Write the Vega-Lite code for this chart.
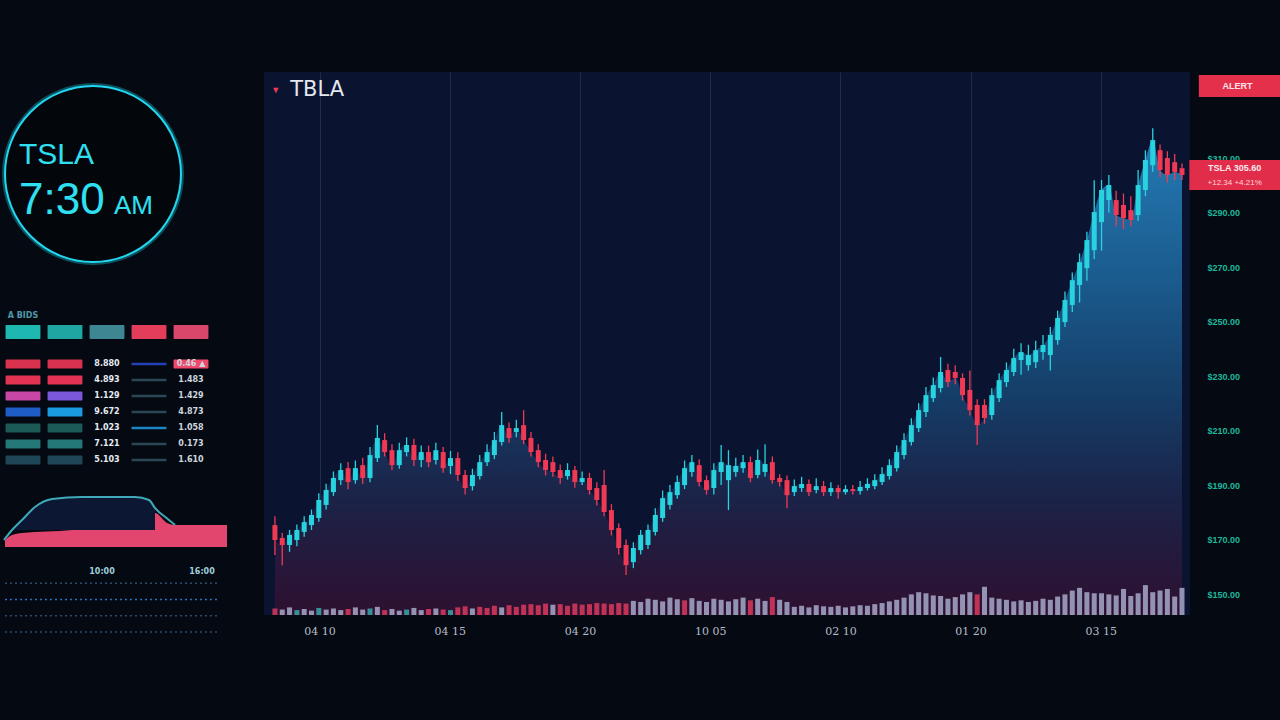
{
  "$schema": "https://vega.github.io/schema/vega-lite/v6.json",
  "padding": {"left": 0, "top": 72, "right": 0, "bottom": 80},
  "background": "#050911",
  "bounds": "full",
  "spacing": 37,
  "datasets": {
    "candles": [
      {"i":0,"o":175.3,"c":169.8,"h":178.5,"l":164.3,"v":12,"dir":"down","flow":"sell"},
      {"i":1,"o":170.6,"c":168.0,"h":172.5,"l":160.6,"v":10,"dir":"down","flow":"buy"},
      {"i":2,"o":168.0,"c":171.7,"h":173.5,"l":165.5,"v":14,"dir":"up","flow":"buy"},
      {"i":3,"o":169.8,"c":173.5,"h":175.5,"l":167.5,"v":9,"dir":"up","flow":"teal"},
      {"i":4,"o":172.8,"c":176.4,"h":178.5,"l":171.0,"v":11,"dir":"up","flow":"buy"},
      {"i":5,"o":175.3,"c":179.0,"h":181.0,"l":173.5,"v":8,"dir":"up","flow":"buy"},
      {"i":6,"o":177.9,"c":184.5,"h":187.0,"l":176.5,"v":13,"dir":"up","flow":"teal"},
      {"i":7,"o":182.7,"c":188.2,"h":190.5,"l":181.0,"v":10,"dir":"up","flow":"buy"},
      {"i":8,"o":187.4,"c":192.6,"h":195.0,"l":186.0,"v":12,"dir":"up","flow":"buy"},
      {"i":9,"o":191.8,"c":195.5,"h":198.0,"l":190.0,"v":9,"dir":"up","flow":"buy"},
      {"i":10,"o":196.2,"c":191.1,"h":198.5,"l":188.5,"v":11,"dir":"down","flow":"sell"},
      {"i":11,"o":191.8,"c":196.2,"h":199.0,"l":190.5,"v":14,"dir":"up","flow":"buy"},
      {"i":12,"o":197.3,"c":192.6,"h":200.0,"l":190.5,"v":10,"dir":"down","flow":"buy"},
      {"i":13,"o":192.6,"c":201.0,"h":204.0,"l":191.0,"v":12,"dir":"up","flow":"teal"},
      {"i":14,"o":199.9,"c":207.3,"h":212.0,"l":198.5,"v":15,"dir":"up","flow":"buy"},
      {"i":15,"o":206.5,"c":202.1,"h":209.0,"l":200.5,"v":9,"dir":"down","flow":"sell"},
      {"i":16,"o":202.8,"c":197.3,"h":205.0,"l":195.5,"v":11,"dir":"down","flow":"buy"},
      {"i":17,"o":197.3,"c":202.8,"h":205.5,"l":196.0,"v":8,"dir":"up","flow":"buy"},
      {"i":18,"o":202.1,"c":204.7,"h":207.5,"l":200.5,"v":10,"dir":"up","flow":"teal"},
      {"i":19,"o":204.7,"c":199.2,"h":207.0,"l":197.0,"v":13,"dir":"down","flow":"buy"},
      {"i":20,"o":199.2,"c":202.1,"h":204.5,"l":196.5,"v":9,"dir":"up","flow":"buy"},
      {"i":21,"o":202.1,"c":198.4,"h":204.5,"l":196.5,"v":11,"dir":"down","flow":"sell"},
      {"i":22,"o":199.2,"c":202.8,"h":205.5,"l":197.5,"v":12,"dir":"up","flow":"buy"},
      {"i":23,"o":202.1,"c":196.2,"h":204.0,"l":194.5,"v":10,"dir":"down","flow":"sell"},
      {"i":24,"o":197.0,"c":199.9,"h":202.5,"l":194.0,"v":9,"dir":"up","flow":"teal"},
      {"i":25,"o":199.9,"c":193.7,"h":202.0,"l":191.5,"v":14,"dir":"down","flow":"sell"},
      {"i":26,"o":193.7,"c":188.9,"h":195.5,"l":186.5,"v":16,"dir":"down","flow":"sell"},
      {"i":27,"o":189.6,"c":193.7,"h":196.0,"l":188.0,"v":12,"dir":"up","flow":"buy"},
      {"i":28,"o":193.3,"c":198.4,"h":201.0,"l":192.0,"v":15,"dir":"up","flow":"sell"},
      {"i":29,"o":198.4,"c":202.1,"h":205.0,"l":197.0,"v":13,"dir":"up","flow":"sell"},
      {"i":30,"o":201.0,"c":206.5,"h":209.5,"l":199.5,"v":17,"dir":"up","flow":"sell"},
      {"i":31,"o":205.8,"c":212.0,"h":216.8,"l":204.5,"v":14,"dir":"up","flow":"buy"},
      {"i":32,"o":210.9,"c":207.3,"h":213.0,"l":205.5,"v":18,"dir":"down","flow":"sell"},
      {"i":33,"o":209.5,"c":210.9,"h":214.0,"l":207.5,"v":15,"dir":"up","flow":"sell"},
      {"i":34,"o":212.0,"c":206.5,"h":217.5,"l":205.0,"v":19,"dir":"down","flow":"sell"},
      {"i":35,"o":207.3,"c":202.1,"h":209.5,"l":200.5,"v":20,"dir":"down","flow":"sell"},
      {"i":36,"o":202.8,"c":198.4,"h":205.0,"l":196.5,"v":18,"dir":"down","flow":"sell"},
      {"i":37,"o":199.2,"c":195.5,"h":201.5,"l":193.5,"v":21,"dir":"down","flow":"sell"},
      {"i":38,"o":198.4,"c":194.8,"h":200.5,"l":193.0,"v":19,"dir":"down","flow":"buy"},
      {"i":39,"o":195.5,"c":192.6,"h":197.5,"l":190.5,"v":20,"dir":"down","flow":"sell"},
      {"i":40,"o":193.3,"c":195.5,"h":198.0,"l":192.0,"v":17,"dir":"up","flow":"sell"},
      {"i":41,"o":195.5,"c":191.1,"h":197.0,"l":189.0,"v":21,"dir":"down","flow":"sell"},
      {"i":42,"o":191.1,"c":192.6,"h":195.0,"l":190.0,"v":19,"dir":"up","flow":"sell"},
      {"i":43,"o":192.6,"c":188.2,"h":194.5,"l":186.5,"v":20,"dir":"down","flow":"sell"},
      {"i":44,"o":188.9,"c":184.5,"h":191.0,"l":182.5,"v":22,"dir":"down","flow":"sell"},
      {"i":45,"o":190.0,"c":180.1,"h":195.5,"l":178.5,"v":21,"dir":"down","flow":"sell"},
      {"i":46,"o":180.8,"c":173.5,"h":183.0,"l":171.5,"v":20,"dir":"down","flow":"sell"},
      {"i":47,"o":174.2,"c":166.9,"h":176.0,"l":164.5,"v":22,"dir":"down","flow":"sell"},
      {"i":48,"o":168.0,"c":160.6,"h":170.0,"l":157.0,"v":21,"dir":"down","flow":"sell"},
      {"i":49,"o":161.7,"c":166.9,"h":169.0,"l":159.5,"v":26,"dir":"up","flow":"buy"},
      {"i":50,"o":166.1,"c":171.7,"h":173.5,"l":164.5,"v":24,"dir":"up","flow":"buy"},
      {"i":51,"o":168.0,"c":173.5,"h":175.5,"l":166.5,"v":30,"dir":"up","flow":"buy"},
      {"i":52,"o":172.8,"c":179.0,"h":181.5,"l":171.5,"v":28,"dir":"up","flow":"buy"},
      {"i":53,"o":177.9,"c":185.2,"h":188.0,"l":176.5,"v":25,"dir":"up","flow":"buy"},
      {"i":54,"o":182.7,"c":187.4,"h":190.0,"l":181.0,"v":32,"dir":"up","flow":"buy"},
      {"i":55,"o":186.3,"c":191.1,"h":193.5,"l":185.0,"v":29,"dir":"up","flow":"buy"},
      {"i":56,"o":190.0,"c":196.2,"h":199.0,"l":188.5,"v":27,"dir":"up","flow":"sell"},
      {"i":57,"o":194.8,"c":198.4,"h":201.0,"l":193.0,"v":31,"dir":"up","flow":"buy"},
      {"i":58,"o":197.3,"c":191.1,"h":199.5,"l":189.5,"v":26,"dir":"down","flow":"buy"},
      {"i":59,"o":191.8,"c":188.2,"h":193.5,"l":186.5,"v":24,"dir":"down","flow":"buy"},
      {"i":60,"o":188.9,"c":195.5,"h":198.0,"l":186.5,"v":30,"dir":"up","flow":"buy"},
      {"i":61,"o":194.8,"c":198.4,"h":204.7,"l":190.0,"v":28,"dir":"up","flow":"buy"},
      {"i":62,"o":191.8,"c":197.3,"h":202.8,"l":180.8,"v":25,"dir":"up","flow":"buy"},
      {"i":63,"o":194.8,"c":197.0,"h":200.0,"l":193.0,"v":29,"dir":"up","flow":"buy"},
      {"i":64,"o":196.2,"c":198.4,"h":201.0,"l":194.5,"v":32,"dir":"up","flow":"buy"},
      {"i":65,"o":198.4,"c":192.6,"h":200.5,"l":191.0,"v":27,"dir":"down","flow":"sell"},
      {"i":66,"o":193.7,"c":199.2,"h":203.0,"l":192.5,"v":30,"dir":"up","flow":"buy"},
      {"i":67,"o":194.8,"c":197.7,"h":205.0,"l":193.0,"v":26,"dir":"up","flow":"buy"},
      {"i":68,"o":198.4,"c":191.8,"h":200.5,"l":190.5,"v":33,"dir":"down","flow":"sell"},
      {"i":69,"o":192.6,"c":191.1,"h":194.0,"l":189.5,"v":28,"dir":"down","flow":"buy"},
      {"i":70,"o":191.8,"c":186.3,"h":193.5,"l":181.5,"v":24,"dir":"down","flow":"buy"},
      {"i":71,"o":187.4,"c":189.6,"h":192.0,"l":186.0,"v":15,"dir":"up","flow":"buy"},
      {"i":72,"o":188.9,"c":190.4,"h":193.0,"l":187.5,"v":17,"dir":"up","flow":"buy"},
      {"i":73,"o":190.4,"c":187.4,"h":192.0,"l":186.0,"v":14,"dir":"down","flow":"buy"},
      {"i":74,"o":188.2,"c":189.6,"h":192.5,"l":187.0,"v":18,"dir":"up","flow":"buy"},
      {"i":75,"o":189.6,"c":187.4,"h":191.5,"l":186.0,"v":16,"dir":"down","flow":"buy"},
      {"i":76,"o":187.4,"c":188.9,"h":191.0,"l":186.0,"v":15,"dir":"up","flow":"buy"},
      {"i":77,"o":188.9,"c":187.4,"h":190.0,"l":185.0,"v":17,"dir":"down","flow":"buy"},
      {"i":78,"o":187.4,"c":188.5,"h":190.0,"l":186.5,"v":14,"dir":"up","flow":"buy"},
      {"i":79,"o":188.5,"c":187.8,"h":190.0,"l":186.5,"v":16,"dir":"down","flow":"buy"},
      {"i":80,"o":187.8,"c":189.3,"h":191.5,"l":186.5,"v":18,"dir":"up","flow":"buy"},
      {"i":81,"o":188.9,"c":190.4,"h":192.5,"l":188.0,"v":17,"dir":"up","flow":"buy"},
      {"i":82,"o":189.6,"c":191.8,"h":194.0,"l":188.5,"v":20,"dir":"up","flow":"buy"},
      {"i":83,"o":191.1,"c":194.0,"h":196.5,"l":190.0,"v":22,"dir":"up","flow":"buy"},
      {"i":84,"o":193.3,"c":197.3,"h":199.5,"l":192.0,"v":25,"dir":"up","flow":"buy"},
      {"i":85,"o":196.2,"c":202.1,"h":204.5,"l":195.0,"v":28,"dir":"up","flow":"buy"},
      {"i":86,"o":201.0,"c":206.5,"h":209.0,"l":199.5,"v":32,"dir":"up","flow":"buy"},
      {"i":87,"o":205.8,"c":212.0,"h":214.5,"l":204.5,"v":38,"dir":"up","flow":"buy"},
      {"i":88,"o":210.9,"c":217.5,"h":220.0,"l":209.5,"v":42,"dir":"up","flow":"buy"},
      {"i":89,"o":216.8,"c":223.0,"h":226.0,"l":215.0,"v":40,"dir":"up","flow":"buy"},
      {"i":90,"o":221.9,"c":226.7,"h":229.5,"l":220.5,"v":36,"dir":"up","flow":"buy"},
      {"i":91,"o":225.6,"c":231.5,"h":237.0,"l":224.0,"v":35,"dir":"up","flow":"buy"},
      {"i":92,"o":232.2,"c":227.8,"h":234.5,"l":226.0,"v":30,"dir":"down","flow":"buy"},
      {"i":93,"o":231.5,"c":229.3,"h":234.0,"l":227.0,"v":33,"dir":"down","flow":"buy"},
      {"i":94,"o":229.3,"c":223.0,"h":231.0,"l":221.0,"v":38,"dir":"down","flow":"buy"},
      {"i":95,"o":224.9,"c":217.5,"h":232.0,"l":215.5,"v":42,"dir":"down","flow":"buy"},
      {"i":96,"o":219.4,"c":212.0,"h":221.5,"l":204.7,"v":38,"dir":"down","flow":"sell"},
      {"i":97,"o":219.4,"c":214.6,"h":221.5,"l":212.5,"v":52,"dir":"down","flow":"buy"},
      {"i":98,"o":215.7,"c":223.0,"h":225.5,"l":214.0,"v":32,"dir":"up","flow":"buy"},
      {"i":99,"o":221.9,"c":228.5,"h":231.0,"l":220.5,"v":30,"dir":"up","flow":"buy"},
      {"i":100,"o":227.8,"c":232.2,"h":235.0,"l":226.0,"v":28,"dir":"up","flow":"buy"},
      {"i":101,"o":231.5,"c":236.6,"h":240.0,"l":230.0,"v":25,"dir":"up","flow":"buy"},
      {"i":102,"o":235.9,"c":238.8,"h":242.0,"l":230.5,"v":27,"dir":"up","flow":"buy"},
      {"i":103,"o":234.0,"c":237.7,"h":241.5,"l":232.0,"v":24,"dir":"up","flow":"buy"},
      {"i":104,"o":235.1,"c":239.5,"h":243.0,"l":233.0,"v":26,"dir":"up","flow":"buy"},
      {"i":105,"o":238.8,"c":241.4,"h":245.1,"l":236.0,"v":30,"dir":"up","flow":"buy"},
      {"i":106,"o":237.7,"c":245.1,"h":248.0,"l":232.0,"v":28,"dir":"up","flow":"buy"},
      {"i":107,"o":243.2,"c":251.3,"h":254.0,"l":241.5,"v":34,"dir":"up","flow":"buy"},
      {"i":108,"o":249.8,"c":257.9,"h":261.0,"l":248.0,"v":38,"dir":"up","flow":"buy"},
      {"i":109,"o":256.1,"c":265.2,"h":268.0,"l":253.5,"v":45,"dir":"up","flow":"buy"},
      {"i":110,"o":263.4,"c":271.8,"h":275.0,"l":257.0,"v":50,"dir":"up","flow":"buy"},
      {"i":111,"o":269.6,"c":279.9,"h":283.0,"l":265.0,"v":42,"dir":"up","flow":"buy"},
      {"i":112,"o":276.2,"c":290.2,"h":301.9,"l":273.0,"v":40,"dir":"up","flow":"buy"},
      {"i":113,"o":286.5,"c":298.3,"h":302.0,"l":276.0,"v":40,"dir":"up","flow":"buy"},
      {"i":114,"o":294.6,"c":300.1,"h":303.8,"l":290.0,"v":38,"dir":"up","flow":"buy"},
      {"i":115,"o":294.6,"c":289.1,"h":298.0,"l":285.0,"v":36,"dir":"down","flow":"buy"},
      {"i":116,"o":292.8,"c":288.0,"h":297.0,"l":284.0,"v":48,"dir":"down","flow":"buy"},
      {"i":117,"o":290.9,"c":287.3,"h":296.0,"l":285.0,"v":35,"dir":"down","flow":"buy"},
      {"i":118,"o":289.1,"c":300.1,"h":305.6,"l":287.0,"v":40,"dir":"up","flow":"buy"},
      {"i":119,"o":298.3,"c":309.3,"h":312.9,"l":296.0,"v":55,"dir":"up","flow":"buy"},
      {"i":120,"o":307.4,"c":316.6,"h":321.0,"l":305.0,"v":42,"dir":"up","flow":"buy"},
      {"i":121,"o":312.9,"c":305.6,"h":315.0,"l":303.0,"v":45,"dir":"down","flow":"buy"},
      {"i":122,"o":310.0,"c":303.8,"h":312.5,"l":301.0,"v":48,"dir":"down","flow":"buy"},
      {"i":123,"o":308.5,"c":304.9,"h":311.5,"l":302.0,"v":34,"dir":"down","flow":"buy"},
      {"i":124,"o":306.3,"c":303.8,"h":308.0,"l":302.0,"v":50,"dir":"down","flow":"buy"}
    ],
    "clock": [{"ticker": "TSLA", "time": "7:30", "ampm": "AM"}],
    "title": [{"sym": "TBLA"}],
    "alert": [{"txt": "ALERT"}],
    "tag": [{"label": "TSLA 305.60", "chg": "+12.34  +4.21%"}],
    "topcells": [
      {"col": "a", "row": "top", "tone": "teal"},
      {"col": "b", "row": "top", "tone": "teal2"},
      {"col": "c", "row": "top", "tone": "slate"},
      {"col": "d", "row": "top", "tone": "red"},
      {"col": "e", "row": "top", "tone": "pink"}
    ],
    "cells": [
      {"col": "a", "row": "r1", "tone": "red1"}, {"col": "b", "row": "r1", "tone": "red1"}, {"col": "e", "row": "r1", "tone": "pinkbox"},
      {"col": "a", "row": "r2", "tone": "red2"}, {"col": "b", "row": "r2", "tone": "red2"},
      {"col": "a", "row": "r3", "tone": "magenta"}, {"col": "b", "row": "r3", "tone": "violet"},
      {"col": "a", "row": "r4", "tone": "blue"}, {"col": "b", "row": "r4", "tone": "cyan"},
      {"col": "a", "row": "r5", "tone": "dteal"}, {"col": "b", "row": "r5", "tone": "dteal"},
      {"col": "a", "row": "r6", "tone": "teal3"}, {"col": "b", "row": "r6", "tone": "teal3"},
      {"col": "a", "row": "r7", "tone": "dslate"}, {"col": "b", "row": "r7", "tone": "dslate"}
    ],
    "lines": [
      {"col": "d", "row": "r1", "tone": "lblue"},
      {"col": "d", "row": "r2", "tone": "line"},
      {"col": "d", "row": "r3", "tone": "line"},
      {"col": "d", "row": "r4", "tone": "line"},
      {"col": "d", "row": "r5", "tone": "lcyan"},
      {"col": "d", "row": "r6", "tone": "line"},
      {"col": "d", "row": "r7", "tone": "line"}
    ],
    "tabletext": [
      {"col": "a", "row": "hd", "txt": "A BIDS", "kind": "hdr"},
      {"col": "c", "row": "r1", "txt": "8.880", "kind": "val"}, {"col": "e", "row": "r1", "txt": "0.46  ▲", "kind": "valb"},
      {"col": "c", "row": "r2", "txt": "4.893", "kind": "val"}, {"col": "e", "row": "r2", "txt": "1.483", "kind": "valb"},
      {"col": "c", "row": "r3", "txt": "1.129", "kind": "val"}, {"col": "e", "row": "r3", "txt": "1.429", "kind": "valb"},
      {"col": "c", "row": "r4", "txt": "9.672", "kind": "val"}, {"col": "e", "row": "r4", "txt": "4.873", "kind": "valb"},
      {"col": "c", "row": "r5", "txt": "1.023", "kind": "val"}, {"col": "e", "row": "r5", "txt": "1.058", "kind": "valb"},
      {"col": "c", "row": "r6", "txt": "7.121", "kind": "val"}, {"col": "e", "row": "r6", "txt": "0.173", "kind": "valb"},
      {"col": "c", "row": "r7", "txt": "5.103", "kind": "val"}, {"col": "e", "row": "r7", "txt": "1.610", "kind": "valb"}
    ],
    "minipink": [
      {"t": 0.3, "v": 35}, {"t": 1, "v": 40}, {"t": 2, "v": 42}, {"t": 7, "v": 45}, {"t": 8, "v": 47},
      {"t": 12, "v": 47}, {"t": 14.5, "v": 48}, {"t": 15.3, "v": 62}, {"t": 16.5, "v": 52}, {"t": 17.3, "v": 50}, {"t": 22.5, "v": 50}
    ],
    "miniline": [
      {"t": 0.2, "v": 35}, {"t": 1, "v": 45}, {"t": 2, "v": 55}, {"t": 3.3, "v": 68}, {"t": 5, "v": 76}, {"t": 8, "v": 78},
      {"t": 11, "v": 78}, {"t": 13.3, "v": 78}, {"t": 14.7, "v": 75}, {"t": 15.3, "v": 67}, {"t": 16.7, "v": 55}, {"t": 17.3, "v": 50}
    ],
    "minilabels": [{"t": 10, "lab": "10:00"}, {"t": 20, "lab": "16:00"}],
    "dots": [
      {"lane": "a", "kind": "dim"}, {"lane": "b", "kind": "blue"}, {"lane": "c", "kind": "dim"}, {"lane": "d", "kind": "dim"}
    ]
  },
  "hconcat": [
    {
      "vconcat": [
        {
          "width": 182,
          "height": 204,
          "data": {"name": "clock"},
          "layer": [
            {"mark": {"type": "arc", "theta": 0, "theta2": 6.2832, "innerRadius": 0, "outerRadius": 91, "fill": "#1ad4ec", "opacity": 0.35}, "encoding": {}},
            {"mark": {"type": "arc", "theta": 0, "theta2": 6.2832, "innerRadius": 0, "outerRadius": 88, "fill": "#03070c", "stroke": "#22d8f0", "strokeWidth": 2}, "encoding": {}},
            {"mark": {"type": "text", "align": "left", "baseline": "alphabetic", "dx": -74, "dy": -10, "fontSize": 30, "font": "Liberation Sans", "color": "#2fe0f2"}, "encoding": {"text": {"field": "ticker"}}},
            {"mark": {"type": "text", "align": "left", "baseline": "alphabetic", "dx": -74, "dy": 40, "fontSize": 44, "font": "Liberation Sans", "color": "#2fe0f2"}, "encoding": {"text": {"field": "time"}}},
            {"mark": {"type": "text", "align": "left", "baseline": "alphabetic", "dx": 21, "dy": 40, "fontSize": 26, "font": "Liberation Sans", "color": "#2fe0f2"}, "encoding": {"text": {"field": "ampm"}}}
          ]
        },
        {
          "width": 210,
          "height": 192,
          "layer": [
            {
              "data": {"name": "topcells"},
              "mark": {"type": "rect", "cornerRadius": 1},
              "encoding": {
                "x": {"field": "col", "type": "nominal", "scale": {"domain": ["a","b","c","d","e"], "paddingInner": 0.17, "paddingOuter": 0.085}, "axis": null},
                "y": {"field": "row", "type": "nominal", "scale": {"domain": ["x0","x1","hd","top","sp","r1","r2","r3","r4","r5","r6","r7"], "paddingInner": 0.12, "paddingOuter": 0.06}, "axis": null},
                "color": {"field": "tone", "type": "nominal", "legend": null, "scale": {"domain": ["teal","teal2","slate","red","pink","red1","red2","magenta","violet","blue","cyan","dteal","teal3","dslate","pinkbox","line","lblue","lcyan"], "range": ["#1fb8b0","#1ea6a2","#3e8792","#e43d5b","#d9486b","#d8324f","#e23452","#c847a6","#7b57d9","#1e5cc6","#1a9be0","#1c5a58","#247878","#1f4656","#ef4a6d","#2a4756","#2340b8","#1a86c6"]}}
              }
            },
            {
              "data": {"name": "cells"},
              "mark": {"type": "rect", "cornerRadius": 1},
              "encoding": {
                "x": {"field": "col", "type": "nominal", "scale": {"domain": ["a","b","c","d","e"], "paddingInner": 0.17, "paddingOuter": 0.085}, "axis": null},
                "y": {"field": "row", "type": "nominal", "scale": {"domain": ["x0","x1","hd","top","sp","r1","r2","r3","r4","r5","r6","r7"], "paddingInner": 0.45, "paddingOuter": 0.225}, "axis": null},
                "color": {"field": "tone", "type": "nominal", "legend": null, "scale": {"domain": ["teal","teal2","slate","red","pink","red1","red2","magenta","violet","blue","cyan","dteal","teal3","dslate","pinkbox","line","lblue","lcyan"], "range": ["#1fb8b0","#1ea6a2","#3e8792","#e43d5b","#d9486b","#d8324f","#e23452","#c847a6","#7b57d9","#1e5cc6","#1a9be0","#1c5a58","#247878","#1f4656","#ef4a6d","#2a4756","#2340b8","#1a86c6"]}}
              }
            },
            {
              "data": {"name": "lines"},
              "mark": {"type": "rect"},
              "encoding": {
                "x": {"field": "col", "type": "nominal", "scale": {"domain": ["a","b","c","d","e"], "paddingInner": 0.17, "paddingOuter": 0.085}, "axis": null},
                "y": {"field": "row", "type": "nominal", "scale": {"domain": ["x0","x1","hd","top","sp","r1","r2","r3","r4","r5","r6","r7"], "paddingInner": 0.85, "paddingOuter": 0.425}, "axis": null},
                "color": {"field": "tone", "type": "nominal", "legend": null, "scale": {"domain": ["teal","teal2","slate","red","pink","red1","red2","magenta","violet","blue","cyan","dteal","teal3","dslate","pinkbox","line","lblue","lcyan"], "range": ["#1fb8b0","#1ea6a2","#3e8792","#e43d5b","#d9486b","#d8324f","#e23452","#c847a6","#7b57d9","#1e5cc6","#1a9be0","#1c5a58","#247878","#1f4656","#ef4a6d","#2a4756","#2340b8","#1a86c6"]}}
              }
            },
            {
              "data": {"name": "tabletext"},
              "mark": {"type": "text", "fontSize": 8, "fontWeight": "bold", "font": "DejaVu Sans"},
              "encoding": {
                "x": {"field": "col", "type": "nominal", "scale": {"domain": ["a","b","c","d","e"], "paddingInner": 0.17, "paddingOuter": 0.085}, "axis": null},
                "y": {"field": "row", "type": "nominal", "scale": {"domain": ["x0","x1","hd","top","sp","r1","r2","r3","r4","r5","r6","r7"], "paddingInner": 0, "paddingOuter": 0}, "axis": null},
                "text": {"field": "txt"},
                "color": {"field": "kind", "type": "nominal", "legend": null, "scale": {"domain": ["hdr","val","valb"], "range": ["#4f97a8","#e6ecf4","#cdd6df"]}}
              }
            }
          ],
          "resolve": {"scale": {"y": "independent", "color": "independent"}}
        },
        {
          "width": 225,
          "height": 107,
          "layer": [
            {
              "data": {"name": "minipink"},
              "mark": {"type": "area", "interpolate": "monotone", "color": "#e2466f"},
              "encoding": {
                "x": {"field": "t", "type": "quantitative", "scale": {"domain": [0, 22.5], "nice": false}, "axis": null},
                "y": {"field": "v", "type": "quantitative", "scale": {"domain": [0, 107], "nice": false}, "axis": null},
                "y2": {"datum": 28}
              }
            },
            {
              "data": {"name": "miniline"},
              "transform": [{"filter": "datum.t >= 1 && datum.t <= 15.3"}],
              "mark": {"type": "area", "interpolate": "monotone", "color": "#0b1733"},
              "encoding": {
                "x": {"field": "t", "type": "quantitative"},
                "y": {"field": "v", "type": "quantitative"},
                "y2": {"datum": 45}
              }
            },
            {
              "data": {"name": "miniline"},
              "mark": {"type": "line", "interpolate": "monotone", "color": "#3fa9b9", "strokeWidth": 2},
              "encoding": {
                "x": {"field": "t", "type": "quantitative"},
                "y": {"field": "v", "type": "quantitative"}
              }
            },
            {
              "data": {"name": "minilabels"},
              "mark": {"type": "text", "fontSize": 8, "fontWeight": "bold", "color": "#9fd0dc", "font": "DejaVu Sans"},
              "encoding": {
                "x": {"field": "t", "type": "quantitative"},
                "y": {"datum": 3},
                "text": {"field": "lab"}
              }
            }
          ]
        },
        {
          "width": 215,
          "height": 65,
          "data": {"name": "dots"},
          "mark": {"type": "rule", "strokeDash": [2, 3], "strokeWidth": 1.5},
          "encoding": {
            "y": {"field": "lane", "type": "nominal", "scale": {"type": "point", "padding": 0.5}, "axis": null},
            "color": {"field": "kind", "type": "nominal", "legend": null, "scale": {"domain": ["dim", "blue"], "range": ["#2d4a6a", "#2a6fc0"]}}
          }
        }
      ],
      "spacing": 0,
      "bounds": "flush"
    },
    {
      "width": 926,
      "height": 543,
      "view": {"fill": "#0a1330", "stroke": null},
      "layer": [
        {
          "data": {"name": "candles"},
          "mark": {"type": "area", "interpolate": "monotone", "clip": true,
            "color": {"gradient": "linear", "x1": 0, "y1": 0, "x2": 0, "y2": 1, "stops": [
              {"offset": 0, "color": "#2479b3"},
              {"offset": 0.3, "color": "#1a5a8c"},
              {"offset": 0.55, "color": "#153c66"},
              {"offset": 0.75, "color": "#1b2348"},
              {"offset": 1, "color": "#2e1030"}
            ]}},
          "encoding": {
            "x": {"field": "i", "type": "quantitative", "title": null,
              "scale": {"domain": [-0.81, 124.41], "nice": false, "zero": false},
              "axis": {"values": [6.1, 23.9, 41.7, 59.5, 77.3, 95.1, 112.9],
                "labelExpr": "datum.value < 10 ? '04 10' : datum.value < 30 ? '04 15' : datum.value < 50 ? '04 20' : datum.value < 65 ? '10 05' : datum.value < 85 ? '02 10' : datum.value < 100 ? '01 20' : '03 15'",
                "grid": true, "gridColor": "#1e2d4c", "gridWidth": 1, "ticks": false, "domain": false,
                "labelColor": "#b4bccb", "labelFontSize": 11, "labelPadding": 10, "labelFont": "DejaVu Serif"}},
            "y": {"field": "c", "type": "quantitative", "title": null,
              "scale": {"domain": [142.3, 341.6], "nice": false, "zero": false},
              "axis": {"orient": "right", "values": [150, 170, 190, 210, 230, 250, 270, 290, 310],
                "labelExpr": "'$' + format(datum.value, ',.2f')",
                "grid": false, "ticks": false, "domain": false, "labelColor": "#1db89c",
                "labelFontSize": 9, "labelFontWeight": "bold", "labelPadding": 17}},
            "y2": {"datum": 142.3}
          }
        },
        {
          "data": {"name": "candles"},
          "mark": {"type": "bar", "size": 5, "opacity": 0.85},
          "encoding": {
            "x": {"field": "i", "type": "quantitative", "title": null},
            "y": {"field": "v", "type": "quantitative", "title": null, "scale": {"domain": [0, 1000]}, "axis": null},
            "color": {"field": "flow", "type": "nominal", "legend": null, "scale": {"domain": ["buy", "sell", "teal"], "range": ["#a7a9c9", "#d93a5d", "#3aa6a8"]}}
          }
        },
        {
          "layer": [
            {
              "data": {"name": "candles"},
              "mark": {"type": "rule", "strokeWidth": 1.3},
              "encoding": {
                "x": {"field": "i", "type": "quantitative", "title": null},
                "y": {"field": "l", "type": "quantitative", "title": null, "scale": {"domain": [142.3, 341.6], "nice": false, "zero": false}, "axis": null},
                "y2": {"field": "h"},
                "color": {"field": "dir", "type": "nominal", "legend": null, "scale": {"domain": ["up", "down"], "range": ["#27d3de", "#f03a55"]}}
              }
            },
            {
              "data": {"name": "candles"},
              "mark": {"type": "bar", "size": 5, "orient": "vertical"},
              "encoding": {
                "x": {"field": "i", "type": "quantitative", "title": null},
                "y": {"field": "o", "type": "quantitative", "title": null, "scale": {"domain": [142.3, 341.6], "nice": false, "zero": false}, "axis": null},
                "y2": {"field": "c"},
                "color": {"field": "dir", "type": "nominal", "legend": null, "scale": {"domain": ["up", "down"], "range": ["#27d3de", "#f03a55"]}}
              }
            },
            {
              "data": {"name": "title"},
              "mark": {"type": "text", "text": "▼", "color": "#f03a55", "fontSize": 9, "baseline": "middle"},
              "encoding": {
                "x": {"datum": 0.1, "type": "quantitative"},
                "y": {"datum": 335, "type": "quantitative", "axis": null}
              }
            },
            {
              "data": {"name": "title"},
              "mark": {"type": "text", "align": "left", "baseline": "middle", "fontSize": 21, "font": "DejaVu Sans", "color": "#e4e7ef"},
              "encoding": {
                "x": {"datum": 2.1, "type": "quantitative"},
                "y": {"datum": 335, "type": "quantitative", "axis": null},
                "text": {"field": "sym"}
              }
            },
            {
              "data": {"name": "alert"},
              "mark": {"type": "rect", "color": "#e5304c"},
              "encoding": {
                "x": {"datum": 126.3, "type": "quantitative"},
                "x2": {"datum": 137.5},
                "y": {"datum": 340.5, "type": "quantitative", "axis": null},
                "y2": {"datum": 332.4}
              }
            },
            {
              "data": {"name": "alert"},
              "mark": {"type": "text", "fontSize": 9, "fontWeight": "bold", "color": "#ffe4ea", "baseline": "middle"},
              "encoding": {
                "x": {"datum": 131.6, "type": "quantitative"},
                "y": {"datum": 336.4, "type": "quantitative", "axis": null},
                "text": {"field": "txt"}
              }
            },
            {
              "data": {"name": "tag"},
              "mark": {"type": "rect", "color": "#e22d4a"},
              "encoding": {
                "x": {"datum": 125.0, "type": "quantitative"},
                "x2": {"datum": 137.5},
                "y": {"datum": 309.3, "type": "quantitative", "axis": null},
                "y2": {"datum": 298.3}
              }
            },
            {
              "data": {"name": "tag"},
              "mark": {"type": "text", "fontSize": 9, "fontWeight": "bold", "color": "#ffe8ee", "baseline": "middle"},
              "encoding": {
                "x": {"datum": 131.2, "type": "quantitative"},
                "y": {"datum": 306.2, "type": "quantitative", "axis": null},
                "text": {"field": "label"}
              }
            },
            {
              "data": {"name": "tag"},
              "mark": {"type": "text", "fontSize": 8, "color": "#ffd6de", "baseline": "middle"},
              "encoding": {
                "x": {"datum": 131.2, "type": "quantitative"},
                "y": {"datum": 300.9, "type": "quantitative", "axis": null},
                "text": {"field": "chg"}
              }
            }
          ]
        }
      ],
      "resolve": {"scale": {"y": "independent", "color": "independent"}}
    }
  ],
  "config": {
    "view": {"stroke": null},
    "font": "Liberation Sans",
    "axis": {"labelFont": "Liberation Sans"}
  }
}
